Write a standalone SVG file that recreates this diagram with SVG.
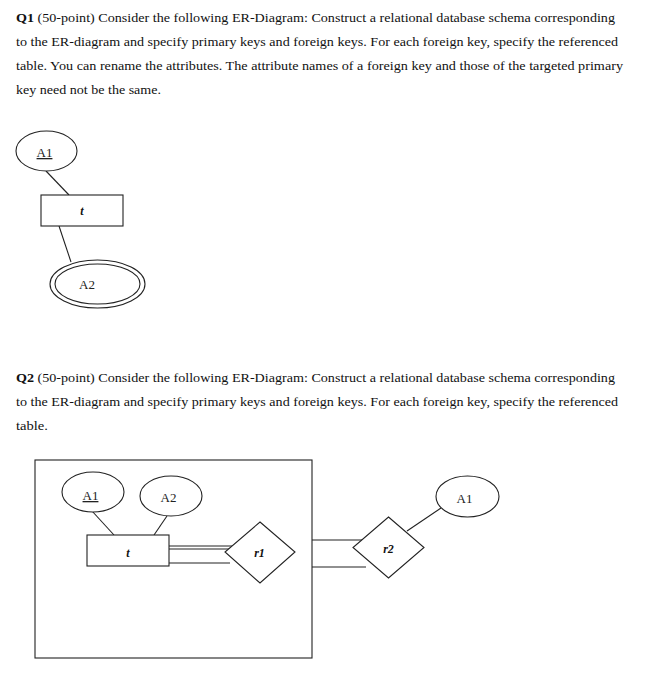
<svg xmlns="http://www.w3.org/2000/svg" width="660" height="700" viewBox="0 0 660 700">
<style>
.p{font-family:"Liberation Serif","Times New Roman",serif;font-size:13.5px;fill:#111}
.l{font-family:"Liberation Serif","Times New Roman",serif;font-size:13px;fill:#222}
.bi{font-family:"Liberation Serif","Times New Roman",serif;font-size:12px;font-weight:bold;font-style:italic;fill:#111}
.s{fill:#fff;stroke:#222;stroke-width:1.1}
.c{stroke:#222;stroke-width:1.1;fill:none}
</style>
<rect width="660" height="700" fill="#fff"/>
<g id="q1-text">
<text class="p" x="16" y="22" textLength="599" lengthAdjust="spacingAndGlyphs"><tspan font-weight="bold">Q1</tspan> (50-point) Consider the following ER-Diagram: Construct a relational database schema corresponding</text>
<text class="p" x="16" y="46" textLength="602" lengthAdjust="spacingAndGlyphs">to the ER-diagram and specify primary keys and foreign keys. For each foreign key, specify the referenced</text>
<text class="p" x="16" y="70" textLength="607" lengthAdjust="spacingAndGlyphs">table. You can rename the attributes. The attribute names of a foreign key and those of the targeted primary</text>
<text class="p" x="16" y="94" textLength="145" lengthAdjust="spacingAndGlyphs">key need not be the same.</text>
</g>
<g id="q2-text">
<text class="p" x="16" y="382" textLength="599" lengthAdjust="spacingAndGlyphs"><tspan font-weight="bold">Q2</tspan> (50-point) Consider the following ER-Diagram: Construct a relational database schema corresponding</text>
<text class="p" x="16" y="406" textLength="602" lengthAdjust="spacingAndGlyphs">to the ER-diagram and specify primary keys and foreign keys. For each foreign key, specify the referenced</text>
<text class="p" x="16" y="430" textLength="32" lengthAdjust="spacingAndGlyphs">table.</text>
</g>
<g id="connectors">
<line class="c" x1="46" y1="171" x2="69" y2="195"/>
<line class="c" x1="59" y1="226" x2="71" y2="262"/>
<line class="c" x1="92" y1="511" x2="114" y2="535"/>
<line class="c" x1="167" y1="516" x2="154" y2="535"/>
<line class="c" x1="169" y1="546" x2="232" y2="546"/>
<line class="c" x1="169" y1="549" x2="230" y2="549"/>
<line class="c" x1="169" y1="563" x2="230" y2="563"/>
<line class="c" x1="312" y1="540" x2="363" y2="540"/>
<line class="c" x1="312" y1="567" x2="366" y2="567"/>
<line class="c" x1="407" y1="531" x2="441" y2="508"/>
</g>
<g id="q1-A1">
<ellipse class="s" cx="46.5" cy="151" rx="30.5" ry="20"/>
<text class="l" x="44.5" y="157" text-anchor="middle" text-decoration="underline">A1</text>
</g>
<g id="q1-t">
<rect class="s" x="41" y="195" width="82" height="31"/>
<text class="bi" x="82" y="215" text-anchor="middle">t</text>
</g>
<g id="q1-A2">
<ellipse class="s" cx="97.5" cy="284" rx="47.5" ry="24"/>
<ellipse class="s" cx="97.5" cy="284" rx="42.5" ry="20"/>
<text class="l" x="87" y="289" text-anchor="middle">A2</text>
</g>
<g id="q2-aggregate">
<rect class="c" x="35" y="460" width="277" height="198"/>
</g>
<g id="q2-A1">
<ellipse class="s" cx="93" cy="492" rx="31" ry="20"/>
<text class="l" x="90.5" y="500" text-anchor="middle" text-decoration="underline">A1</text>
</g>
<g id="q2-A2">
<ellipse class="s" cx="171" cy="496" rx="31" ry="20"/>
<text class="l" x="168.5" y="502" text-anchor="middle">A2</text>
</g>
<g id="q2-t">
<rect class="s" x="87" y="535" width="82" height="31"/>
<text class="bi" x="128" y="557" text-anchor="middle">t</text>
</g>
<g id="q2-r1">
<polygon class="s" points="260,522 295,552 260,583 225,552"/>
<text class="bi" x="259.5" y="557" text-anchor="middle">r1</text>
</g>
<g id="q2-r2">
<polygon class="s" points="388.5,517 424,547.5 388.5,578 353,547.5"/>
<text class="bi" x="388.5" y="553" text-anchor="middle">r2</text>
</g>
<g id="q2-A1b">
<ellipse class="s" cx="467.5" cy="496.5" rx="31.5" ry="20.5"/>
<text class="l" x="464.5" y="503" text-anchor="middle">A1</text>
</g>
</svg>
